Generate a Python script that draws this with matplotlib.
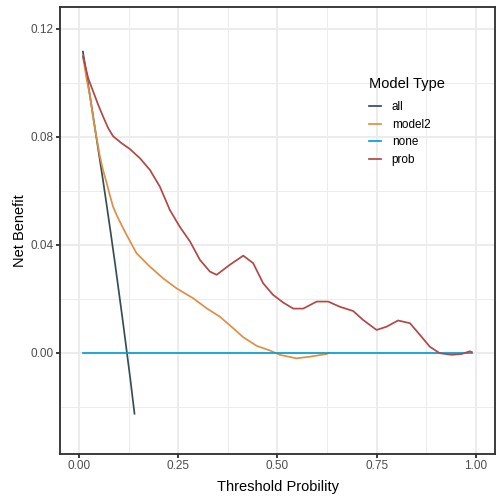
import matplotlib.pyplot as plt
from matplotlib.ticker import MultipleLocator

plt.rcParams['font.family'] = ['Liberation Sans', 'DejaVu Sans']

# threshold probabilities and net benefit
all_x = [0.01, 0.02, 0.03, 0.04, 0.05, 0.06, 0.07, 0.08, 0.09, 0.10, 0.11, 0.12, 0.13, 0.14]
all_y = [0.1115, 0.1025, 0.0930, 0.0835, 0.0740, 0.0645, 0.0546, 0.0445, 0.0341, 0.0233,
         0.0124, 0.0011, -0.0103, -0.0225]

model2_x = [0.01, 0.019, 0.028, 0.036, 0.0445, 0.053, 0.061, 0.070, 0.078, 0.086, 0.095,
            0.103, 0.120, 0.145, 0.179, 0.212, 0.246, 0.288, 0.322, 0.355, 0.389, 0.414,
            0.448, 0.481, 0.506, 0.548, 0.582, 0.624, 0.63]
model2_y = [0.1100, 0.1016, 0.0950, 0.0870, 0.0795, 0.0726, 0.0675, 0.0628, 0.0583, 0.0541,
            0.0510, 0.0486, 0.0437, 0.0369, 0.0319, 0.0276, 0.0239, 0.0202, 0.0165, 0.0134,
            0.0091, 0.0058, 0.0026, 0.0009, -0.0007, -0.0020, -0.0014, -0.0004, 0.0]

none_x = [0.01, 0.99]
none_y = [0.0, 0.0]

prob_x = [0.01, 0.0235, 0.036, 0.0486, 0.061, 0.074, 0.086, 0.1075, 0.128, 0.154, 0.179,
          0.204, 0.229, 0.254, 0.280, 0.305, 0.330, 0.347, 0.380, 0.414, 0.439, 0.464,
          0.489, 0.515, 0.540, 0.565, 0.599, 0.628, 0.657, 0.691, 0.716, 0.750, 0.775,
          0.804, 0.834, 0.859, 0.884, 0.909, 0.939, 0.964, 0.985, 0.99]
prob_y = [0.1098, 0.1016, 0.0967, 0.0918, 0.0874, 0.0831, 0.0802, 0.0776, 0.0755, 0.0720,
          0.0677, 0.0615, 0.0529, 0.0467, 0.0412, 0.0344, 0.0301, 0.0289, 0.0326, 0.0360,
          0.0332, 0.0258, 0.0215, 0.0186, 0.0164, 0.0164, 0.0190, 0.0190, 0.0171, 0.0155,
          0.0122, 0.0085, 0.0097, 0.0120, 0.0110, 0.0067, 0.0023, -0.0001, -0.0007,
          -0.0004, 0.0006, 0.0003]

series = [('all', all_x, all_y, '#374E55'),
          ('model2', model2_x, model2_y, '#DF8F44'),
          ('none', none_x, none_y, '#00A1D5'),
          ('prob', prob_x, prob_y, '#B24745')]

fig = plt.figure(figsize=(5.25, 5.25), dpi=96)
ax = fig.add_axes([0.1196, 0.0998, 0.8631, 0.8857])

for name, xs, ys, col in series:
    ax.plot(xs, ys, color=col, lw=1.3, label=name)

ax.set_xlim(-0.047, 1.049)
ax.set_ylim(-0.0373, 0.1279)
ax.xaxis.set_minor_locator(MultipleLocator(0.125))
ax.yaxis.set_minor_locator(MultipleLocator(0.02))
ax.set_xticks([0, 0.25, 0.5, 0.75, 1.0])
ax.set_xticklabels(['0.00', '0.25', '0.50', '0.75', '1.00'])
ax.set_yticks([0.0, 0.04, 0.08, 0.12])
ax.set_yticklabels(['0.00', '0.04', '0.08', '0.12'])

ax.grid(which='major', color='#EBEBEB', lw=1.4)
ax.grid(which='minor', color='#EBEBEB', lw=0.7)
ax.set_axisbelow(True)
ax.tick_params(which='major', length=2.75, width=1.4, color='#333333',
               labelcolor='#4D4D4D', labelsize=8.8, pad=2.2)
ax.tick_params(which='minor', length=0)
for sp in ax.spines.values():
    sp.set_color('#333333')
    sp.set_linewidth(1.4)

ax.set_xlabel('Threshold Probility', fontsize=11, labelpad=5.5)
ax.set_ylabel('Net Benefit', fontsize=11, labelpad=2.5)

leg = ax.legend(title='Model Type', loc='upper left', bbox_to_anchor=(0.70, 0.854),
                frameon=False, fontsize=8.8, title_fontsize=11, handlelength=1.0,
                handletextpad=0.9, labelspacing=0.47, borderaxespad=0, borderpad=0.4)
leg._legend_box.align = 'left'
leg._legend_box.sep = 7.5  # a bit more room under the title

fig.savefig('out.png', dpi=96)
